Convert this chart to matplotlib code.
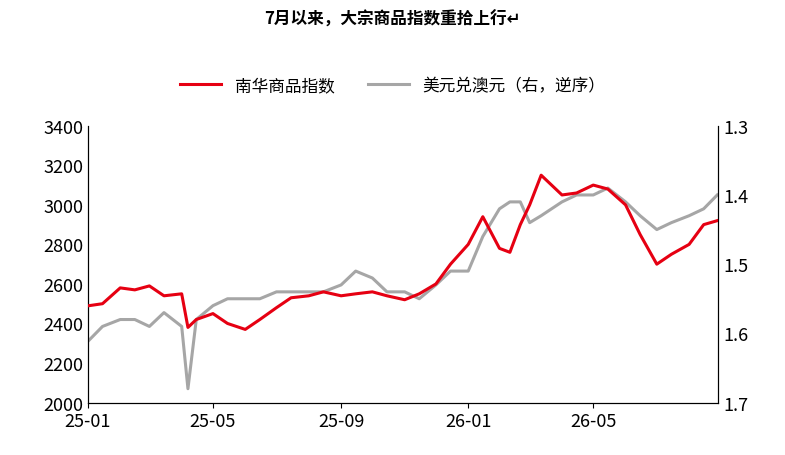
import matplotlib
matplotlib.use("Agg")
import matplotlib.pyplot as plt
import matplotlib.dates as mdates
import pandas as pd

plt.rcParams['font.family'] = ['Noto Sans CJK SC', 'DejaVu Sans']

dates = ["2025-01-02","2025-01-15","2025-02-01","2025-02-15","2025-03-01","2025-03-15","2025-04-01","2025-04-07",
         "2025-04-15","2025-05-01","2025-05-15","2025-06-01","2025-06-15","2025-07-01","2025-07-15","2025-08-01",
         "2025-08-15","2025-09-01","2025-09-15","2025-10-01","2025-10-15","2025-11-01","2025-11-15","2025-12-01",
         "2025-12-15","2026-01-01","2026-01-15","2026-01-31","2026-02-10","2026-02-20","2026-03-01","2026-03-12",
         "2026-04-01","2026-04-15","2026-05-01","2026-05-15","2026-06-01","2026-06-15","2026-07-01","2026-07-15",
         "2026-08-01","2026-08-15","2026-08-28"]
commodity = [2490,2500,2580,2570,2590,2540,2550,2380,2420,2450,2400,2370,2420,2480,2530,2540,
             2560,2540,2550,2560,2540,2520,2550,2600,2700,2800,2940,2780,2760,2900,3000,3150,
             3050,3060,3100,3080,3000,2850,2700,2750,2800,2900,2920]
usdaud = [1.61,1.59,1.58,1.58,1.59,1.57,1.59,1.68,1.58,1.56,1.55,1.55,1.55,1.54,1.54,1.54,
          1.54,1.53,1.51,1.52,1.54,1.54,1.55,1.53,1.51,1.51,1.46,1.42,1.41,1.41,1.44,1.43,
          1.41,1.40,1.40,1.39,1.41,1.43,1.45,1.44,1.43,1.42,1.40]

x = pd.to_datetime(dates)
fig = plt.figure(figsize=(7.85, 4.56), dpi=100)
ax = fig.add_axes([0.112, 0.115, 0.803, 0.607])
ax2 = ax.twinx()
l1, = ax.plot(x, commodity, color='#e60012', lw=2.2, label='南华商品指数', zorder=3)
l2, = ax2.plot(x, usdaud, color='#a6a6a6', lw=2.2, label='美元兑澳元（右，逆序）')
ax.set_zorder(ax2.get_zorder() + 1); ax.patch.set_visible(False)
ax.set_ylim(2000, 3400); ax.set_yticks(range(2000, 3401, 200))
ax2.set_ylim(1.7, 1.3); ax2.set_yticks([1.3, 1.4, 1.5, 1.6, 1.7])
ax.set_xlim(pd.Timestamp("2025-01-01"), pd.Timestamp("2026-08-29"))
ax.xaxis.set_major_locator(mdates.MonthLocator(bymonth=[1, 5, 9]))
ax.xaxis.set_major_formatter(mdates.DateFormatter('%y-%m'))
for a in (ax, ax2):
    a.spines['top'].set_visible(False)
    a.tick_params(labelsize=13, direction='out')
ax.tick_params(axis='y', length=0)
ax2.tick_params(axis='y', length=0)
fig.text(0.5, 0.945, '7月以来，大宗商品指数重拾上行↵', ha='center', fontsize=12, fontweight='bold')
fig.legend(handles=[l1, l2], loc='center', bbox_to_anchor=(0.5, 0.81), ncol=2, frameon=False, fontsize=12,
           handlelength=2.5, columnspacing=2)
fig.savefig('out.png', dpi=100)
